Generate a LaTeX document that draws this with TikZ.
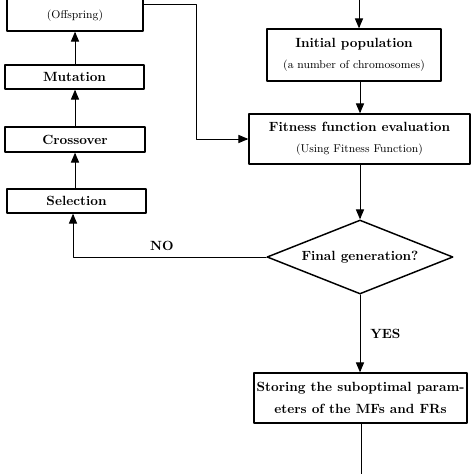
\documentclass[tikz,border=0pt]{standalone}
\usepackage{pgf,tikz}
\usetikzlibrary{arrows,shapes.geometric}

\begin{document}
\begin{tikzpicture}[line cap=round,line join=round,>=triangle 45,x=0.75pt,y=-0.75pt,
  blk/.style={draw,line width=1.1pt,inner sep=0pt,align=center,font=\bfseries\fontsize{10}{11}\selectfont},
  cond/.style={draw,diamond,line width=1.1pt,inner sep=0pt,aspect=2.5,font=\bfseries\fontsize{10}{11}\selectfont},
  sub/.style={font=\fontsize{8.5}{10}\selectfont},
  flow/.style={line width=0.7pt}]
\useasboundingbox (0,0) rectangle (474,474);
\clip (0,0) rectangle (474,474);
% left column
\draw (75,5) node[blk,minimum width=102pt,minimum height=39pt] (off) {};
\draw (75,16) node[sub] (offtxt) {(Offspring)};
\draw (74.5,77) node[blk,minimum width=104.25pt,minimum height=18pt] (mut) {Mutation};
\draw (75,139.5) node[blk,minimum width=105pt,minimum height=18.75pt] (cro) {Crossover};
\draw (76.5,201) node[blk,minimum width=104.25pt,minimum height=18pt] (sel) {Selection};
% right column
\coordinate (start) at (359,-5);
\draw (354,55) node[blk,minimum width=130.5pt,minimum height=39pt] (init) {Initial population\\[5pt]{\mdseries\fontsize{8.5}{10}\selectfont (a number of chromosomes)}};
\draw (359.5,139) node[blk,minimum width=165.75pt,minimum height=37.5pt] (fit) {Fitness function evaluation\\[5pt]{\mdseries\fontsize{8.5}{10}\selectfont (Using Fitness Function)}};
\draw (360,257) node[cond,minimum width=139.5pt,minimum height=55.5pt] (gen) {Final generation?};
\draw (360.5,398) node[blk,minimum width=159.75pt,minimum height=37.5pt] (store) {Storing the suboptimal param-\\[5pt]eters of the MFs and FRs};
\coordinate (finish) at (361,480);
% connectors
\draw [flow,->] (start) -- (359,0 |- init.north);
\draw [flow,->] (360,0 |- init.south) -- (360,0 |- fit.north);
\draw [flow,->] (fit.south -| gen.north) -- (gen.north);
\draw [flow,->] (gen.south) -- (gen.south |- store.north) node[midway,right=4pt,font=\bfseries\fontsize{10}{11}\selectfont] {YES};
\draw [flow] (store.south -| finish) -- (finish);
\draw [flow,->] (gen.west) -- (73,257) node[pos=0.54,above=1pt,font=\bfseries\fontsize{10}{11}\selectfont] {NO} -- (73,0 |- sel.south);
\draw [flow,->] (sel.north -| 75,0) -- (cro.south -| 75,0);
\draw [flow,->] (cro.north -| 75,0) -- (mut.south -| 75,0);
\draw [flow,->] (mut.north -| 75,0) -- (off.south -| 75,0);
\draw [flow,->] (off.east |- 0,4) -- (196,4) -- (196,139) -- (fit.west);
\end{tikzpicture}
\end{document}
